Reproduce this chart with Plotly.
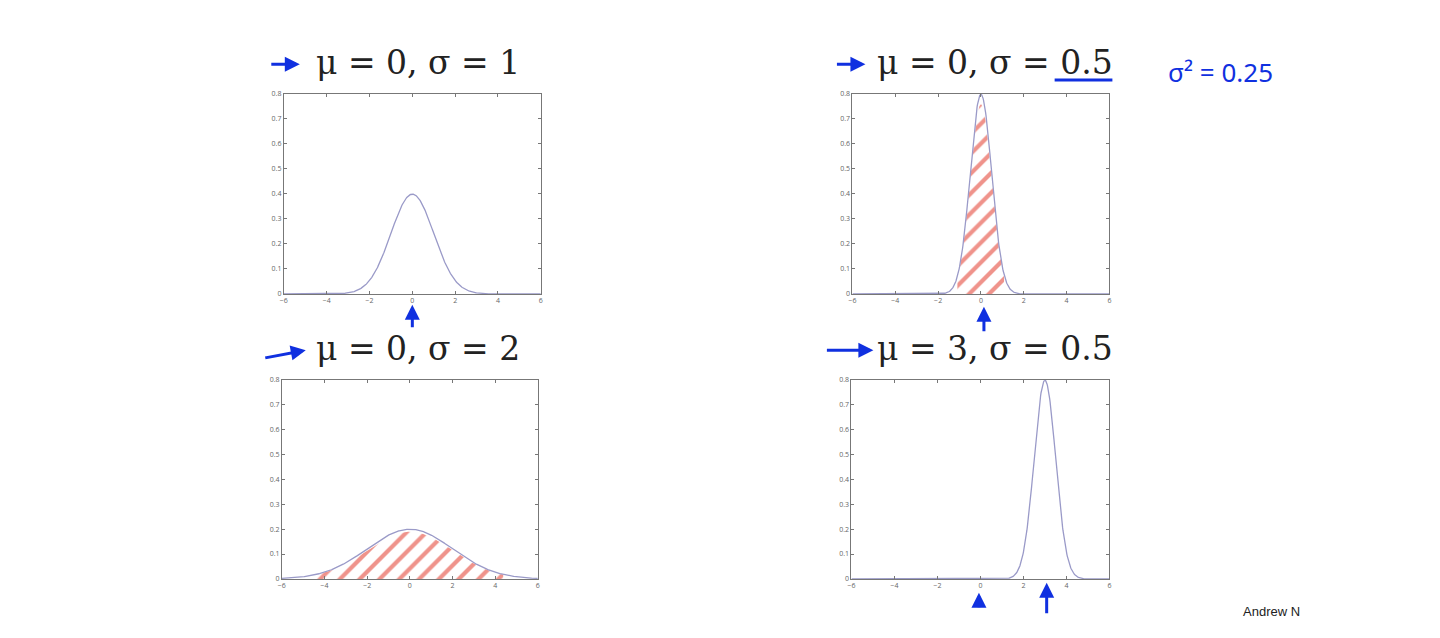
import numpy as np
import plotly.graph_objects as go

mus = [0, 0, 0, 3]
sigmas = [1, 0.5, 2, 0.5]
titles = ["μ = 0, σ = 1", "μ = 0, σ = 0.5", "μ = 0, σ = 2", "μ = 3, σ = 0.5"]
hatched = [False, True, True, False]
x_ticks = [-6, -4, -2, 0, 2, 4, 6]
y_ticks = [0, 0.1, 0.2, 0.3, 0.4, 0.5, 0.6, 0.7, 0.8]
y_labels = ["0", "0.1", "0.2", "0.3", "0.4", "0.5", "0.6", "0.7", "0.8"]

W, H = 1440, 638
DX, DY = -9, -10
def px(x): return (x + DX) / W
def py(y): return 1 - (y + DY) / H

boxes = [(282, 540, 92, 295), (853, 1111, 92, 295), (280, 537, 382, 584), (852, 1111, 382, 584)]

fig = go.Figure()
xs = np.linspace(-6, 6, 601)
for i, (m, s) in enumerate(zip(mus, sigmas)):
    ys = np.exp(-0.5 * ((xs - m) / s) ** 2) / (s * np.sqrt(2 * np.pi))
    ax = "" if i == 0 else str(i + 1)
    if hatched[i]:
        mask = np.abs(xs - m) < 2.2 * s
        fig.add_trace(go.Scatter(x=xs[mask], y=ys[mask] * 0.95, mode="lines", line=dict(width=0),
                                 fill="tozeroy", fillcolor="rgba(0,0,0,0)",
                                 fillpattern=dict(shape="/", fgcolor="#e02818", size=14, solidity=0.3),
                                 xaxis="x" + ax, yaxis="y" + ax, showlegend=False, hoverinfo="skip"))
    fig.add_trace(go.Scatter(x=xs, y=ys, mode="lines", line=dict(color="#9a9ac8", width=1.3),
                             xaxis="x" + ax, yaxis="y" + ax, showlegend=False, hoverinfo="skip"))
    common = dict(showline=True, mirror="ticks", linecolor="#777", linewidth=1, ticks="inside",
                  ticklen=3, tickcolor="#777", showgrid=False, zeroline=False,
                  tickfont=dict(size=7, color="#666"))
    x0, x1, y0, y1 = boxes[i]
    fig.update_layout(**{
        "xaxis" + ax: dict(domain=[px(x0), px(x1)], range=[-6, 6], tickvals=x_ticks,
                           anchor="y" + ax, **common),
        "yaxis" + ax: dict(domain=[py(y1), py(y0)], range=[0, 0.8], tickvals=y_ticks,
                           ticktext=y_labels, anchor="x" + ax, **common),
    })

title_pos = [(312, 60), (876, 60), (312, 350), (876, 350)]
for (x, y), t in zip(title_pos, titles):
    fig.add_annotation(x=px(x), y=py(y), xref="paper", yref="paper", text=t,
                       showarrow=False, xanchor="left", yanchor="middle",
                       font=dict(family="DejaVu Serif", size=33, color="#222"))
# blue hand-drawn arrows
for (x0, y0, x1, y1) in [(268, 62, 298, 62), (836, 62, 866, 62), (262, 360, 304, 352),
                         (826, 352, 874, 352), (411, 330, 411, 306), (985, 334, 985, 308),
                         (980, 614, 980, 598), (1048, 620, 1048, 588)]:
    fig.add_annotation(x=px(x1), y=py(y1), ax=x0 - x1, ay=y0 - y1, xref="paper", yref="paper",
                       axref="pixel", ayref="pixel", text="", showarrow=True, arrowhead=2,
                       arrowsize=1, arrowwidth=3, arrowcolor="#1030e0")
fig.add_annotation(x=px(1168), y=py(70), xref="paper", yref="paper", text="σ² = 0.25",
                   showarrow=False, xanchor="left", yanchor="middle",
                   font=dict(family="Noto Sans", size=26, color="#1030e0"))
fig.add_shape(type="line", xref="paper", yref="paper", x0=px(1056), x1=px(1114),
              y0=py(78), y1=py(78), line=dict(color="#1030e0", width=3))
fig.add_annotation(x=px(1243), y=py(617), xref="paper", yref="paper", text="Andrew N",
                   showarrow=False, xanchor="left", yanchor="middle",
                   font=dict(family="Liberation Sans", size=13, color="#222"))

fig.update_layout(width=W, height=H, margin=dict(l=0, r=0, t=0, b=0),
                  plot_bgcolor="white", paper_bgcolor="white")
fig.write_html("out.html")
